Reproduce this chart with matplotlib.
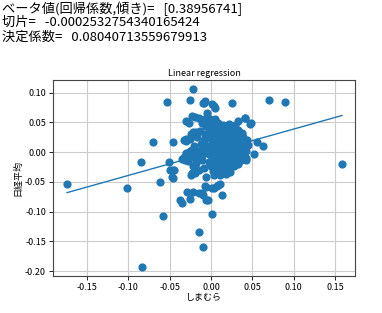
import numpy as np
import matplotlib.pyplot as plt

plt.rcParams['font.family'] = ['Noto Sans CJK JP', 'DejaVu Sans']
plt.rcParams['axes.unicode_minus'] = False

# regression results (printed above the chart)
beta = 0.38956741
intercept = -0.0002532754340165424
r2 = 0.08040713559679913

# daily returns: しまむら (x) vs 日経平均 (y)
core_x = [0.001, 0.008, 0.015, 0.022, 0.029,
          -0.002, 0.005, 0.012, 0.019, 0.026, 0.033,
          0.000, 0.007, 0.014, 0.021, 0.028, 0.036,
          -0.003, 0.004, 0.011, 0.018, 0.025, 0.032, 0.039,
          0.001, 0.008, 0.015, 0.022, 0.029, 0.036, 0.043,
          -0.004, 0.003, 0.010, 0.017, 0.024, 0.031, 0.038, 0.045,
          0.000, 0.007, 0.014, 0.021, 0.028, 0.035, 0.042,
          -0.003, 0.004, 0.011, 0.018, 0.025, 0.032, 0.039,
          0.001, 0.008, 0.015, 0.022, 0.029, 0.036,
          -0.002, 0.005, 0.012, 0.019, 0.026, 0.033,
          0.000, 0.007, 0.014, 0.021, 0.028,
          0.002, 0.009, 0.016, 0.023,
          0.004, 0.011, 0.018]
core_y = [0.047, 0.048, 0.046, 0.047, 0.045,
          0.040, 0.041, 0.039, 0.040, 0.038, 0.037,
          0.033, 0.032, 0.034, 0.031, 0.032, 0.030,
          0.026, 0.025, 0.027, 0.024, 0.026, 0.023, 0.025,
          0.018, 0.019, 0.017, 0.019, 0.016, 0.018, 0.020,
          0.011, 0.012, 0.010, 0.012, 0.009, 0.011, 0.008, 0.012,
          0.004, 0.005, 0.003, 0.005, 0.002, 0.004, 0.001,
          -0.003, -0.002, -0.004, -0.001, -0.005, -0.003, -0.006,
          -0.010, -0.011, -0.009, -0.012, -0.010, -0.013,
          -0.017, -0.018, -0.016, -0.019, -0.017, -0.020,
          -0.024, -0.025, -0.023, -0.026, -0.024,
          -0.031, -0.032, -0.030, -0.033,
          -0.038, -0.039, -0.037]

left_x = [-0.008, -0.012, -0.009, -0.015, -0.010, -0.016, -0.011, -0.018, -0.008, -0.014,
          -0.020, -0.023, -0.021, -0.027, -0.025, -0.030, -0.033, -0.028, -0.035, -0.022,
          -0.019, -0.024, -0.017, -0.021, -0.013, -0.007, -0.006, -0.011]
left_y = [0.020, 0.014, 0.007, 0.002, -0.004, -0.009, -0.014, -0.019, -0.026, -0.030,
          0.010, 0.003, -0.004, -0.007, 0.001, -0.002, -0.009, -0.015, -0.012, -0.024,
          -0.035, -0.038, 0.026, 0.032, 0.036, 0.030, 0.044, 0.048]

outer_x = [-0.174, -0.1013, -0.0839, -0.0847, -0.0698, -0.0617, -0.0577, -0.0529, -0.0505, -0.0496,
           -0.0464, -0.0464, -0.0444, -0.0214, -0.025, -0.0141, -0.0097, 0.0012, 0.0698, 0.0896,
           0.1582, 0.025, -0.0075, -0.0085, -0.0097, 0.0012, 0.0048, 0.003, -0.005, -0.007,
           -0.0226, -0.019, -0.015, -0.0307, -0.0266, -0.0012, 0.0048, 0.0323, 0.0407, 0.0472,
           0.041, 0.048, 0.038, 0.040, 0.0557, 0.0625, 0.0516, 0.042,
           -0.0307, -0.030, -0.024, -0.018, -0.022, -0.025, -0.033, -0.031, -0.028, -0.024,
           -0.0375, -0.0355, -0.0254, -0.0294, -0.0214, -0.0141, -0.010, -0.0064, -0.004, -0.011,
           -0.0064, -0.0073, -0.006, 0.0012, 0.0069, 0.0109, 0.0133, 0.004, 0.009,
           0.0202, 0.019, 0.027, 0.024, 0.042, -0.023, -0.046, -0.047]
outer_y = [-0.0528, -0.0611, -0.1926, -0.0158, 0.0173, -0.0503, -0.108, 0.0833, -0.0168, -0.0297,
           0.0161, -0.0432, -0.0309, 0.1063, 0.0878, -0.1333, -0.159, -0.1036, 0.0878, 0.0845,
           -0.0208, 0.082, 0.086, 0.082, 0.083, 0.080, 0.0745, 0.077, 0.065, 0.056,
           0.060, 0.059, 0.057, 0.052, 0.049, 0.055, 0.056, 0.052, 0.057, 0.047,
           0.058, 0.049, 0.032, 0.018, 0.0175, 0.0095, -0.0028, -0.0095,
           0.0226, 0.019, 0.030, 0.034, 0.034, 0.022, 0.020, -0.013, -0.008, -0.008,
           -0.0805, -0.086, -0.078, -0.0665, -0.0665, -0.0692, -0.072, -0.080, -0.080, -0.068,
           -0.058, -0.057, -0.0424, -0.0606, -0.0568, -0.0534, -0.072, -0.060, -0.055,
           -0.0326, -0.033, -0.0214, -0.020, -0.014, -0.035, -0.030, -0.042]

x = np.array(core_x + left_x + outer_x)
y = np.array(core_y + left_y + outer_y)

fig = plt.figure(figsize=(3.82, 3.13), dpi=100)

# printed output above the chart
fig.text(0.005, 0.995, 'ベータ値(回帰係数,傾き)=   [%.8f]' % beta, fontsize=9.5, va='top')
fig.text(0.005, 0.948, '切片=   %s' % repr(intercept), fontsize=9.5, va='top')
fig.text(0.005, 0.901, '決定係数=   %s' % repr(r2), fontsize=9.5, va='top')

ax = fig.add_axes([0.1387, 0.1182, 0.7906, 0.6262])
ax.scatter(x, y, s=24, color='#1f77b4', zorder=2)

xs = np.array([x.min(), x.max()])
ax.plot(xs, beta * xs + intercept, color='#1f77b4', linewidth=1.0, zorder=3)

ax.set_xlim(-0.191, 0.174)
ax.set_ylim(-0.208, 0.121)
ax.set_xticks([-0.15, -0.10, -0.05, 0.00, 0.05, 0.10, 0.15])
ax.set_yticks([-0.20, -0.15, -0.10, -0.05, 0.00, 0.05, 0.10])
ax.set_xticklabels(['-0.15', '-0.10', '-0.05', '0.00', '0.05', '0.10', '0.15'])
ax.set_yticklabels(['-0.20', '-0.15', '-0.10', '-0.05', '0.00', '0.05', '0.10'])
ax.tick_params(labelsize=6.5, length=3, width=0.6, pad=2)
ax.grid(True, color='#cccccc', linewidth=0.8, zorder=0)
ax.set_axisbelow(True)
for sp in ax.spines.values():
    sp.set_color('#444444')
    sp.set_linewidth(0.8)

ax.set_title('Linear regression', fontsize=6.5, pad=3)
ax.set_xlabel('しまむら', fontsize=6.5, labelpad=1)
ax.set_ylabel('日経平均', fontsize=6.5, labelpad=2)

plt.savefig('out.png', dpi=100)
